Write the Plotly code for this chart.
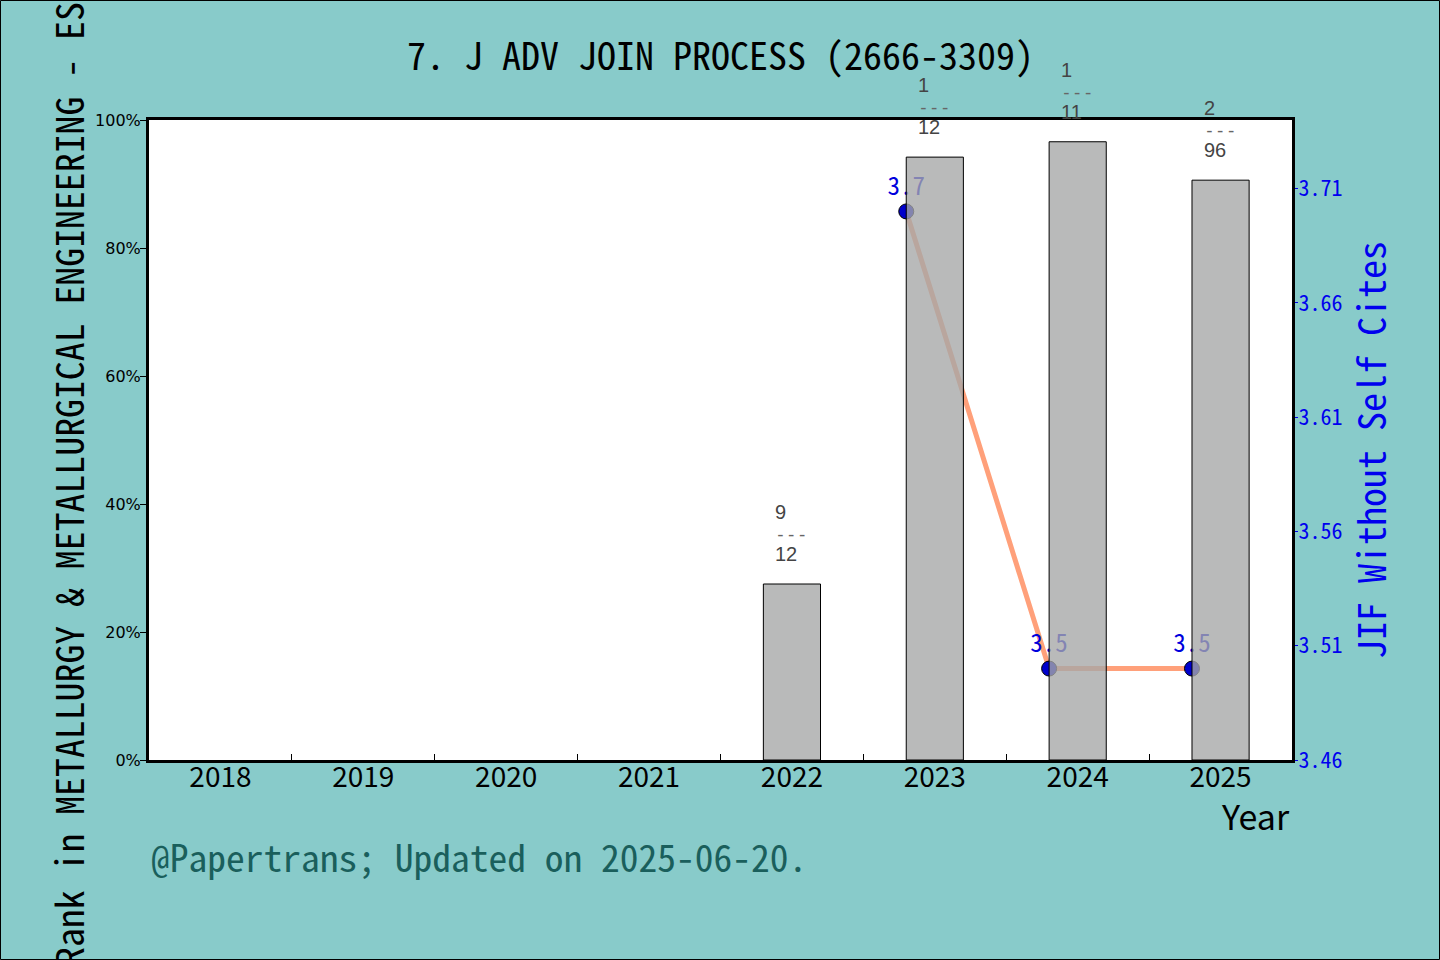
import plotly.graph_objects as go

# ---- data ----
years = ["2018", "2019", "2020", "2021", "2022", "2023", "2024", "2025"]
bar_years = ["2022", "2023", "2024", "2025"]
rank_pct = [0.275, 0.942, 0.966, 0.906]
rank_pos = [9, 1, 1, 2]
rank_total = [12, 12, 11, 96]
jif_years = ["2023", "2024", "2025"]
jif_vals = [3.7, 3.5, 3.5]
jif_labels = ["3.7", "3.5", "3.5"]

title_text = "7. J ADV JOIN PROCESS (2666-3309)"
left_title = "Rank in METALLURGY & METALLURGICAL ENGINEERING - ESCI"
right_title = "JIF Without Self Cites"
footer = "@Papertrans; Updated on 2025-06-20."

MONO = "Noto Sans Mono CJK SC, DejaVu Sans Mono, monospace"
SANS = "Noto Sans CJK SC, DejaVu Sans, sans-serif"
BG = "#88cbca"

W, H = 1440, 960
L, R, T, B = 149, 148, 120, 200
pw, ph = W - L - R, H - T - B
BAR_W = 0.4
LINE_SHIFT = -BAR_W / 2  # line points sit on the left edge of the bars

idx = {y: i for i, y in enumerate(years)}
bar_x = [idx[y] for y in bar_years]
line_x = [idx[y] + LINE_SHIFT for y in jif_years]

fig = go.Figure()

# JIF line on base axis (drawn below bars)
fig.add_trace(go.Scatter(
    x=line_x, y=jif_vals, mode="lines+markers+text",
    text=jif_labels, textposition="top center",
    textfont=dict(family=MONO, size=25, color="#0000dd"),
    line=dict(color="#ffa07a", width=5),
    marker=dict(size=15, color="#0000cc", line=dict(color="black", width=1)),
    cliponaxis=False, yaxis="y", xaxis="x", showlegend=False,
))

# rank bars on overlaid axis (drawn above line)
fig.add_trace(go.Bar(
    x=bar_x, y=rank_pct, width=BAR_W,
    marker=dict(color="rgba(166,167,168,0.79)", line=dict(color="black", width=1)),
    yaxis="y2", xaxis="x", showlegend=False,
))

NUM = "<span style='font-family:Liberation Sans;font-size:20px'>{}</span>"
DASH = "<span style='font-family:DejaVu Sans Mono;font-size:18px;color:#666666'>---</span>"

annotations = []
for xv, v, p, t in zip(bar_x, rank_pct, rank_pos, rank_total):
    annotations.append(dict(
        x=xv, y=v, xref="x", yref="y2",
        text=NUM.format(p) + "<br>" + DASH + "<br>" + NUM.format(t),
        showarrow=False, xanchor="center", yanchor="bottom", yshift=17,
        align="left", font=dict(family="Liberation Sans", size=16, color="#444444"),
    ))

annotations += [
    dict(text=left_title, textangle=-90, showarrow=False,
         xref="paper", yref="paper", x=(67 - L) / pw, y=(ph - (968 - T)) / ph,
         xanchor="center", yanchor="bottom",
         font=dict(family=MONO, size=37.8, color="black")),
    dict(text=right_title, textangle=-90, showarrow=False,
         xref="paper", yref="paper", x=(1369 - L) / pw, y=(ph - (450 - T)) / ph,
         xanchor="center", yanchor="middle",
         font=dict(family=MONO, size=38, color="#0000ee")),
    dict(text="Year", showarrow=False, xref="paper", yref="paper",
         x=1.0, y=(ph - (815 - T)) / ph, xanchor="right", yanchor="middle",
         font=dict(family=SANS, size=34, color="black")),
    dict(text=footer, showarrow=False, xref="paper", yref="paper",
         x=0.0, y=(ph - (855 - T)) / ph, xanchor="left", yanchor="middle",
         font=dict(family=MONO, size=37.5, color="#1a5f5c")),
]

fig.update_layout(
    width=W, height=H,
    margin=dict(l=L, r=R, t=T, b=B),
    paper_bgcolor=BG, plot_bgcolor="white",
    title=dict(text=title_text, x=0.5, xanchor="center", xref="paper",
               y=1 - 57 / H, yref="container", yanchor="middle",
               font=dict(family=MONO, size=38, color="black")),
    xaxis=dict(type="linear", range=[-0.5, len(years) - 0.5],
               tickvals=list(range(len(years))), ticktext=years,
               ticks="", ticklabelstandoff=-10,
               minor=dict(tickvals=[i + 0.5 for i in range(len(years) - 1)],
                          ticks="inside", ticklen=6, tickwidth=1, tickcolor="black"),
               showline=True, linewidth=3, linecolor="black",
               mirror=True, showgrid=False, zeroline=False,
               tickfont=dict(family=SANS, size=28, color="black")),
    yaxis=dict(side="right", range=[3.46, 3.74], tick0=3.46, dtick=0.05,
               tickformat=".2f", ticks="outside", ticklen=3, tickcolor="#0000ee",
               ticklabelstandoff=-4,
               showline=True, linewidth=3, linecolor="black",
               showgrid=False, zeroline=False,
               tickfont=dict(family=MONO, size=22, color="#0000ee")),
    yaxis2=dict(overlaying="y", side="left", anchor="x", range=[0, 1],
                tickvals=[0, 0.2, 0.4, 0.6, 0.8, 1.0], tickformat=".0%",
                ticks="outside", ticklen=6, tickcolor="black",
                ticklabelstandoff=-4,
                showline=True, linewidth=3, linecolor="black",
                showgrid=False, zeroline=False,
                tickfont=dict(family="DejaVu Sans", size=16, color="black")),
    annotations=annotations,
    shapes=[dict(type="rect", xref="paper", yref="paper",
                 x0=(0.5 - L) / pw, x1=(W - 0.5 - L) / pw,
                 y0=(ph - (H - 0.5 - T)) / ph, y1=(ph - (0.5 - T)) / ph,
                 line=dict(color="black", width=1), fillcolor="rgba(0,0,0,0)",
                 layer="above")],
)

fig.write_html("out.html", config={"displayModeBar": False},
               post_script="document.body.style.margin='0px';document.body.style.overflow='hidden';")
